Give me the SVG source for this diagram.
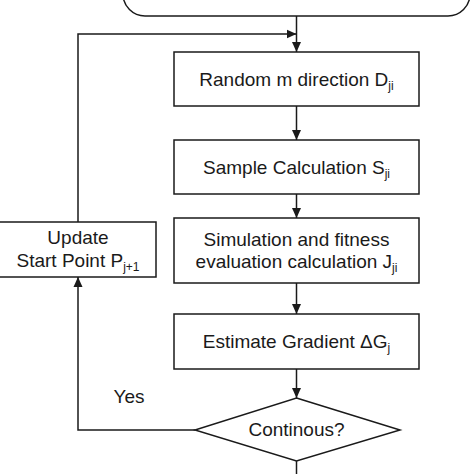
<svg xmlns="http://www.w3.org/2000/svg" width="474" height="474" viewBox="0 0 474 474">
<style>
.n{fill:#fff;stroke:#1a1a1a;stroke-width:1.5}
.c{fill:none;stroke:#1a1a1a;stroke-width:1.5}
text{font-family:"Liberation Sans",Arial,sans-serif;font-size:19px;fill:#1a1a1a;text-anchor:middle}
.s{font-size:12px}
</style>
<defs>
<marker id="a" viewBox="0 0 10 10" refX="10" refY="5" markerWidth="10" markerHeight="10" markerUnits="userSpaceOnUse" orient="auto">
<path d="M0,0.5 L10,5 L0,9.5 Z" fill="#1a1a1a"/>
</marker>
</defs>
<rect width="474" height="474" fill="#fff"/>
<g id="start"><rect class="n" x="123" y="-40" width="347" height="56" rx="22"/></g>
<g id="n1"><rect class="n" x="174" y="52" width="245" height="54"/><text x="296.5" y="86">Random m direction D<tspan class="s" dy="4">ji</tspan></text></g>
<g id="n2"><rect class="n" x="174" y="140" width="245" height="54"/><text x="296.5" y="174">Sample Calculation S<tspan class="s" dy="4">ji</tspan></text></g>
<g id="n3"><rect class="n" x="174" y="218" width="245" height="65"/><text x="296.5" y="246">Simulation and fitness</text><text x="296.5" y="268">evaluation calculation J<tspan class="s" dy="4">ji</tspan></text></g>
<g id="n4"><rect class="n" x="174" y="314" width="245" height="55"/><text x="296.5" y="348">Estimate Gradient ΔG<tspan class="s" dy="4">j</tspan></text></g>
<g id="n5"><polygon class="n" points="296.5,398 400,430 296.5,461 195,430"/><text x="296.5" y="436">Continous?</text></g>
<g id="n6"><rect class="n" x="-1" y="222" width="157" height="55"/><text x="78" y="244">Update</text><text x="78" y="267">Start Point P<tspan class="s" dy="4">j+1</tspan></text></g>
<g id="connectors">
<line class="c" x1="296.5" y1="16" x2="296.5" y2="52" marker-end="url(#a)"/>
<line class="c" x1="296.5" y1="106" x2="296.5" y2="140" marker-end="url(#a)"/>
<line class="c" x1="296.5" y1="194" x2="296.5" y2="218" marker-end="url(#a)"/>
<line class="c" x1="296.5" y1="283" x2="296.5" y2="314" marker-end="url(#a)"/>
<line class="c" x1="296.5" y1="369" x2="296.5" y2="398" marker-end="url(#a)"/>
<line class="c" x1="296.5" y1="461" x2="296.5" y2="475"/>
<polyline class="c" points="195,430 78,430 78,277" marker-end="url(#a)"/>
<polyline class="c" points="78,222 78,34 296.5,34" marker-end="url(#a)"/>
<text x="129" y="403">Yes</text>
</g>
</svg>
